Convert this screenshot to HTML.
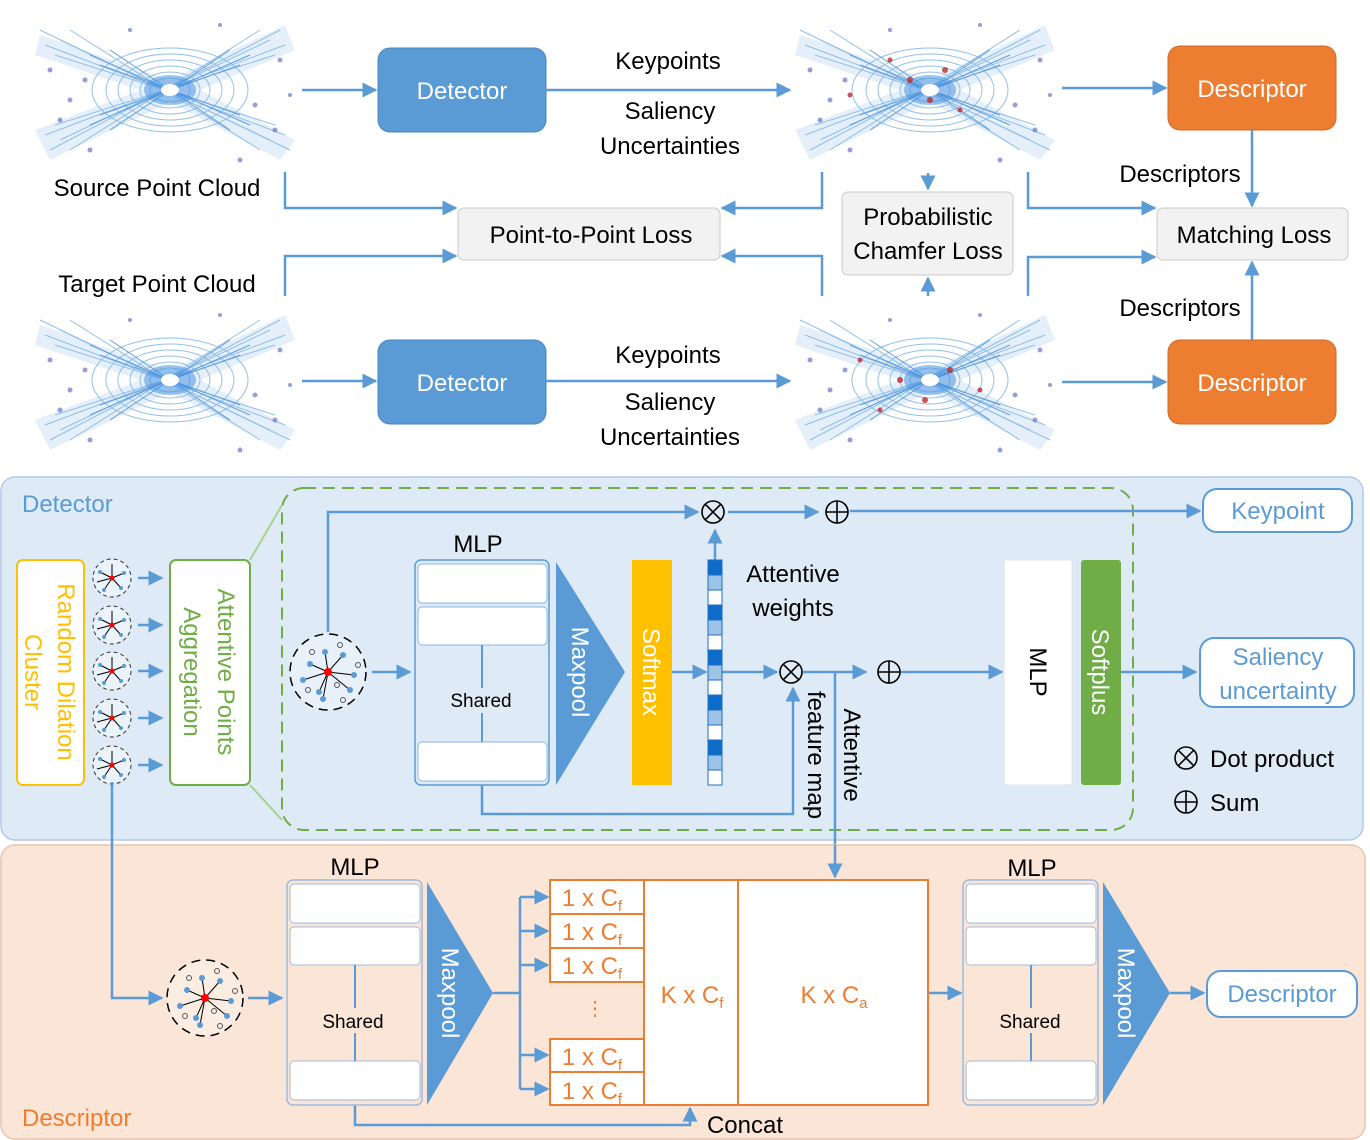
<!DOCTYPE html>
<html><head><meta charset="utf-8"><style>
html,body{margin:0;padding:0;background:#fff}
svg{display:block}
text{font-family:"Liberation Sans",sans-serif}
</style></head><body>
<svg width="1370" height="1140" viewBox="0 0 1370 1140" xmlns="http://www.w3.org/2000/svg">
<defs>
<marker id="a" viewBox="0 0 10 10" refX="9" refY="5" markerWidth="6" markerHeight="6" orient="auto"><path d="M0,0L10,5L0,10z" fill="#5b9bd5"/></marker>
<symbol id="cloud" viewBox="0 0 270 160">
<path d="M10,25L140,70L255,15L265,40L170,80L265,130L250,150L140,92L20,150L5,120L110,80L5,45Z" fill="#cfe2f5" opacity="0.55"/>
<g fill="none" stroke="#7fb6e6" stroke-width="1" opacity="0.85">
<ellipse cx="140" cy="80" rx="20" ry="12"/><ellipse cx="140" cy="80" rx="30" ry="18"/><ellipse cx="140" cy="80" rx="40" ry="24"/><ellipse cx="140" cy="80" rx="52" ry="30"/><ellipse cx="140" cy="80" rx="64" ry="36"/><ellipse cx="140" cy="80" rx="78" ry="42"/>
<path d="M10,20L260,140M20,140L250,20M30,30L240,130M30,130L240,30M40,20L230,140M40,140L230,20M15,35L255,125M15,125L255,35M25,45L245,115M25,115L245,45"/>
<path d="M60,45L220,115M60,115L220,45M80,40L200,120M80,120L200,40M70,55L210,105M70,105L210,55" stroke="#4a8fd8"/>
</g>
<g fill="#6a74c8" opacity="0.7">
<circle cx="20" cy="60" r="2.5"/><circle cx="40" cy="90" r="2.5"/><circle cx="250" cy="50" r="2.5"/><circle cx="245" cy="120" r="2.5"/><circle cx="60" cy="140" r="2.5"/><circle cx="210" cy="150" r="2.5"/><circle cx="100" cy="20" r="2"/><circle cx="190" cy="15" r="2"/><circle cx="30" cy="110" r="2.5"/><circle cx="260" cy="85" r="2"/><circle cx="225" cy="95" r="2.5"/><circle cx="55" cy="70" r="2.5"/>
</g>
<ellipse cx="140" cy="80" rx="26" ry="15" fill="#3d8de0" opacity="0.5"/>
<ellipse cx="140" cy="80" rx="9" ry="6" fill="#fff"/>
</symbol>
<g id="ot"><circle r="11" fill="none" stroke="#000" stroke-width="1.6"/><path d="M-7.8,-7.8L7.8,7.8M-7.8,7.8L7.8,-7.8" stroke="#000" stroke-width="1.6"/></g>
<g id="op"><circle r="11" fill="none" stroke="#000" stroke-width="1.6"/><path d="M-11,0H11M0,-11V11" stroke="#000" stroke-width="1.6"/></g>
</defs>

<use href="#cloud" x="30" y="10" width="270" height="160"/>
<use href="#cloud" x="30" y="300" width="270" height="160"/>
<use href="#cloud" x="790" y="10" width="270" height="160"/>
<use href="#cloud" x="790" y="300" width="270" height="160"/>
<g fill="#c0282d" opacity="0.8">
<circle cx="910" cy="80" r="3"/><circle cx="930" cy="100" r="3"/><circle cx="945" cy="70" r="3"/><circle cx="890" cy="60" r="2.5"/><circle cx="960" cy="110" r="2.5"/><circle cx="850" cy="95" r="2.5"/>
<circle cx="900" cy="380" r="3"/><circle cx="925" cy="400" r="3"/><circle cx="950" cy="370" r="3"/><circle cx="880" cy="410" r="2.5"/><circle cx="980" cy="390" r="2.5"/><circle cx="860" cy="360" r="2.5"/>
</g>

<g font-size="24" fill="#000" text-anchor="middle">
<text x="157" y="196">Source Point Cloud</text>
<text x="157" y="292">Target Point Cloud</text>
<text x="668" y="69">Keypoints</text>
<text x="670" y="119">Saliency</text>
<text x="670" y="154">Uncertainties</text>
<text x="668" y="363">Keypoints</text>
<text x="670" y="410">Saliency</text>
<text x="670" y="445">Uncertainties</text>
<text x="1180" y="182">Descriptors</text>
<text x="1180" y="316">Descriptors</text>
</g>

<rect x="378" y="48" width="168" height="84" rx="12" fill="#5b9bd5" stroke="#4a86be"/>
<rect x="378" y="340" width="168" height="84" rx="12" fill="#5b9bd5" stroke="#4a86be"/>
<rect x="1168" y="46" width="168" height="84" rx="12" fill="#ed7d31" stroke="#d06a25"/>
<rect x="1168" y="340" width="168" height="84" rx="12" fill="#ed7d31" stroke="#d06a25"/>
<g font-size="24" fill="#fff" text-anchor="middle">
<text x="462" y="99">Detector</text><text x="462" y="391">Detector</text>
<text x="1252" y="97">Descriptor</text><text x="1252" y="391">Descriptor</text>
</g>

<rect x="458" y="208" width="262" height="52" rx="6" fill="#f2f2f2" stroke="#c9c9c9"/>
<rect x="842" y="192" width="171" height="83" rx="6" fill="#f2f2f2" stroke="#c9c9c9"/>
<rect x="1157" y="208" width="191" height="52" rx="6" fill="#f2f2f2" stroke="#c9c9c9"/>
<g font-size="24" fill="#000" text-anchor="middle">
<text x="591" y="243">Point-to-Point Loss</text>
<text x="928" y="225">Probabilistic</text>
<text x="928" y="259">Chamfer Loss</text>
<text x="1254" y="243">Matching Loss</text>
</g>

<g stroke="#5b9bd5" stroke-width="2.5" fill="none" marker-end="url(#a)">
<path d="M302,90H376"/><path d="M546,90H790"/><path d="M302,381H376"/><path d="M546,381H790"/>
<path d="M1062,88H1166"/><path d="M1062,382H1166"/>
<path d="M1252,130V206"/><path d="M1252,340V262"/>
<path d="M1028,172V208H1155"/><path d="M1028,296V257H1155"/>
<path d="M928,173V189"/><path d="M928,296V278"/>
<path d="M285,172V208H456"/><path d="M285,296V256H456"/>
<path d="M822,172V208H722"/><path d="M822,296V256H722"/>
</g>

<rect x="1" y="477" width="1362" height="363" rx="14" fill="#deebf7" stroke="#b4c7e7" stroke-width="1.5"/>
<text x="22" y="512" font-size="24" fill="#5b9bd5">Detector</text>

<rect x="17" y="560" width="67" height="225" rx="6" fill="#fff" stroke="#ffc000" stroke-width="2"/>
<g font-size="24" fill="#ffc000" text-anchor="middle">
<text transform="translate(58,672) rotate(90)">Random Dilation</text>
<text transform="translate(25,672) rotate(90)">Cluster</text>
</g>
<rect x="170" y="560" width="80" height="225" rx="6" fill="#fff" stroke="#70ad47" stroke-width="2"/>
<g font-size="24" fill="#70ad47" text-anchor="middle">
<text transform="translate(218,672) rotate(90)">Attentive Points</text>
<text transform="translate(184,672) rotate(90)">Aggregation</text>
</g>

<g id="sc">
<circle cx="112" cy="578" r="19" fill="#fff" fill-opacity="0.4" stroke="#333" stroke-dasharray="4,3"/>
<path d="M112,578l-12,-6M112,578l12,-5M112,578l-8,12M112,578l9,10M112,578l0,-14M112,578l-15,4" stroke="#000" stroke-width="1"/>
<circle cx="112" cy="578" r="2.5" fill="red"/>
<circle cx="100" cy="572" r="2" fill="#5b9bd5"/><circle cx="124" cy="573" r="2" fill="#5b9bd5"/><circle cx="104" cy="590" r="2" fill="#5b9bd5"/><circle cx="121" cy="588" r="2" fill="#5b9bd5"/>
</g>
<use href="#sc" y="47"/><use href="#sc" y="93"/><use href="#sc" y="140"/><use href="#sc" y="187"/>

<g stroke="#5b9bd5" stroke-width="2.5" fill="none" marker-end="url(#a)">
<path d="M138,578H162"/><path d="M138,625H162"/><path d="M138,671H162"/><path d="M138,718H162"/><path d="M138,765H162"/>
</g>

<rect x="282" y="488" width="851" height="342" rx="22" fill="none" stroke="#70ad47" stroke-width="2" stroke-dasharray="12,7"/>
<path d="M250,560L282,505M250,785L282,820" stroke="#a9d18e" stroke-width="2"/>

<g id="bc">
<circle cx="328" cy="672" r="38" fill="#fff" fill-opacity="0.3" stroke="#000" stroke-width="1.5" stroke-dasharray="9,6"/>
<path d="M328,672l-25,8M328,672l26,3M328,672l-3,-20M328,672l-9,20M328,672l-18,-8M328,672l15,-17M328,672l22,18M328,672l-5,27" stroke="#000"/>
<circle cx="328" cy="672" r="4" fill="red"/>
<g fill="#5b9bd5"><circle cx="303" cy="680" r="3"/><circle cx="354" cy="675" r="3"/><circle cx="325" cy="652" r="3"/><circle cx="319" cy="692" r="3"/><circle cx="343" cy="655" r="3"/><circle cx="350" cy="690" r="3"/><circle cx="310" cy="664" r="3"/><circle cx="323" cy="699" r="3"/></g>
<g fill="none" stroke="#555"><circle cx="312" cy="652" r="2.5"/><circle cx="340" cy="645" r="2.5"/><circle cx="308" cy="690" r="2.5"/><circle cx="337" cy="685" r="2.5"/><circle cx="343" cy="700" r="2.5"/><circle cx="358" cy="665" r="2.5"/></g>
</g>

<g stroke="#5b9bd5" stroke-width="2.5" fill="none" marker-end="url(#a)">
<path d="M372,672H410"/>
<path d="M328,632V512H698"/>
<path d="M728,512H818"/>
<path d="M850,511H1200"/>
<path d="M672,672H706"/>
<path d="M715,560V530"/>
<path d="M722,672H777"/>
<path d="M803,672H866"/>
<path d="M901,672H1002"/>
<path d="M482,785V814H793V688"/>
<path d="M835,672V877"/>
<path d="M1121,672H1196"/>
</g>

<text x="478" y="552" font-size="24" text-anchor="middle">MLP</text>
<rect x="415" y="560" width="134" height="225" rx="6" fill="#deebf7" stroke="#5b9bd5" stroke-width="1.5"/>
<rect x="418" y="564" width="129" height="39" rx="4" fill="#fff" stroke="#8fb4dd"/>
<rect x="418" y="607" width="129" height="38" rx="4" fill="#fff" stroke="#8fb4dd"/>
<rect x="418" y="742" width="129" height="39" rx="4" fill="#fff" stroke="#8fb4dd"/>
<path d="M482,645V688M482,713V742" stroke="#5b9bd5" stroke-width="2"/>
<text x="481" y="707" font-size="19" text-anchor="middle">Shared</text>
<path d="M556,562L625,672L556,785Z" fill="#5b9bd5"/>
<text transform="translate(572,672) rotate(90)" font-size="24" fill="#fff" text-anchor="middle">Maxpool</text>
<rect x="632" y="560" width="40" height="225" fill="#ffc000"/>
<text transform="translate(643,672) rotate(90)" font-size="24" fill="#fff" text-anchor="middle">Softmax</text>

<g stroke="#1f6fc0" stroke-width="1">
<rect x="708" y="560" width="14" height="15" fill="#0d6ccb"/><rect x="708" y="575" width="14" height="15" fill="#9dc3e6"/><rect x="708" y="590" width="14" height="15" fill="#fff"/>
<rect x="708" y="605" width="14" height="15" fill="#0d6ccb"/><rect x="708" y="620" width="14" height="15" fill="#9dc3e6"/><rect x="708" y="635" width="14" height="15" fill="#fff"/>
<rect x="708" y="650" width="14" height="15" fill="#0d6ccb"/><rect x="708" y="665" width="14" height="15" fill="#9dc3e6"/><rect x="708" y="680" width="14" height="15" fill="#fff"/>
<rect x="708" y="695" width="14" height="15" fill="#0d6ccb"/><rect x="708" y="710" width="14" height="15" fill="#9dc3e6"/><rect x="708" y="725" width="14" height="15" fill="#fff"/>
<rect x="708" y="740" width="14" height="15" fill="#0d6ccb"/><rect x="708" y="755" width="14" height="15" fill="#9dc3e6"/><rect x="708" y="770" width="14" height="15" fill="#fff"/>
</g>
<g font-size="24" text-anchor="middle">
<text x="793" y="582">Attentive</text>
<text x="793" y="616">weights</text>
<text transform="translate(808,755) rotate(90)">feature map</text>
<text transform="translate(844,755) rotate(90)">Attentive</text>
</g>

<use href="#ot" x="713" y="512"/><use href="#op" x="837" y="512"/>
<use href="#ot" x="791" y="672"/><use href="#op" x="889" y="672"/>
<use href="#ot" x="1186" y="758"/><use href="#op" x="1186" y="802"/>
<text x="1210" y="767" font-size="24">Dot product</text>
<text x="1210" y="811" font-size="24">Sum</text>

<rect x="1004" y="560" width="68" height="225" fill="#fff" stroke="#e0e0e0"/>
<text transform="translate(1030,672) rotate(90)" font-size="24" text-anchor="middle">MLP</text>
<rect x="1081" y="560" width="40" height="225" rx="3" fill="#70ad47"/>
<text transform="translate(1092,672) rotate(90)" font-size="24" fill="#fff" text-anchor="middle">Softplus</text>

<rect x="1203" y="489" width="149" height="43" rx="14" fill="#fff" stroke="#5b9bd5" stroke-width="2"/>
<text x="1278" y="519" font-size="24" fill="#5b9bd5" text-anchor="middle">Keypoint</text>
<rect x="1200" y="638" width="154" height="69" rx="14" fill="#fff" stroke="#5b9bd5" stroke-width="2"/>
<text x="1278" y="665" font-size="24" fill="#5b9bd5" text-anchor="middle">Saliency</text>
<text x="1278" y="699" font-size="24" fill="#5b9bd5" text-anchor="middle">uncertainty</text>

<rect x="1" y="845" width="1364" height="294" rx="14" fill="#fbe5d6" stroke="#e6c4ae" stroke-width="1.5"/>
<path d="M835,845V877" stroke="#5b9bd5" stroke-width="2.5" marker-end="url(#a)"/>
<text x="22" y="1126" font-size="24" fill="#ed7d31">Descriptor</text>

<use href="#bc" x="-123" y="326"/>
<g stroke="#5b9bd5" stroke-width="2.5" fill="none" marker-end="url(#a)">
<path d="M112,782V998H162"/>
<path d="M248,998H282"/>
<path d="M355,1105V1125H690V1108"/>
<path d="M928,993H961"/>
<path d="M1170,993H1204"/>
</g>
<g stroke="#5b9bd5" stroke-width="2.5" fill="none">
<path d="M493,993H520M520,897V1089"/>
</g>
<g stroke="#5b9bd5" stroke-width="2.5" fill="none" marker-end="url(#a)">
<path d="M520,897H548"/><path d="M520,931H548"/><path d="M520,965H548"/><path d="M520,1055H548"/><path d="M520,1089H548"/>
</g>

<text x="355" y="875" font-size="24" text-anchor="middle">MLP</text>
<rect x="287" y="880" width="135" height="225" rx="6" fill="#fbe5d6" stroke="#9dbbe0" stroke-width="1.5"/>
<rect x="290" y="884" width="130" height="39" rx="4" fill="#fff" stroke="#9dbbe0"/>
<rect x="290" y="927" width="130" height="38" rx="4" fill="#fff" stroke="#9dbbe0"/>
<rect x="290" y="1061" width="130" height="39" rx="4" fill="#fff" stroke="#9dbbe0"/>
<path d="M355,965V1008M355,1033V1061" stroke="#5b9bd5" stroke-width="2"/>
<text x="353" y="1028" font-size="19" text-anchor="middle">Shared</text>
<path d="M427,882L493,993L427,1105Z" fill="#5b9bd5"/>
<text transform="translate(442,993) rotate(90)" font-size="24" fill="#fff" text-anchor="middle">Maxpool</text>

<g stroke="#ed7d31" stroke-width="2" fill="#fff">
<rect x="550" y="880" width="94" height="34"/><rect x="550" y="914" width="94" height="34"/><rect x="550" y="948" width="94" height="34"/>
<rect x="550" y="1039" width="94" height="33"/><rect x="550" y="1072" width="94" height="33"/>
<rect x="644" y="880" width="94" height="225"/><rect x="738" y="880" width="190" height="225"/>
</g>
<g font-size="24" fill="#ed7d31" text-anchor="middle">
<text x="592" y="906">1 x C<tspan font-size="15" dy="5">f</tspan></text>
<text x="592" y="940">1 x C<tspan font-size="15" dy="5">f</tspan></text>
<text x="592" y="974">1 x C<tspan font-size="15" dy="5">f</tspan></text>
<text x="592" y="1065">1 x C<tspan font-size="15" dy="5">f</tspan></text>
<text x="592" y="1099">1 x C<tspan font-size="15" dy="5">f</tspan></text>
<text x="692" y="1003">K x C<tspan font-size="15" dy="5">f</tspan></text>
<text x="834" y="1003">K x C<tspan font-size="15" dy="5">a</tspan></text>
<text x="595" y="1015" font-size="20">⋮</text>
</g>
<text x="745" y="1133" font-size="24" text-anchor="middle">Concat</text>

<text x="1032" y="876" font-size="24" text-anchor="middle">MLP</text>
<rect x="963" y="880" width="135" height="225" rx="6" fill="#fbe5d6" stroke="#9dbbe0" stroke-width="1.5"/>
<rect x="966" y="884" width="130" height="39" rx="4" fill="#fff" stroke="#9dbbe0"/>
<rect x="966" y="927" width="130" height="38" rx="4" fill="#fff" stroke="#9dbbe0"/>
<rect x="966" y="1061" width="130" height="39" rx="4" fill="#fff" stroke="#9dbbe0"/>
<path d="M1031,965V1008M1031,1033V1061" stroke="#5b9bd5" stroke-width="2"/>
<text x="1030" y="1028" font-size="19" text-anchor="middle">Shared</text>
<path d="M1103,882L1170,993L1103,1105Z" fill="#5b9bd5"/>
<text transform="translate(1118,993) rotate(90)" font-size="24" fill="#fff" text-anchor="middle">Maxpool</text>

<rect x="1207" y="971" width="150" height="46" rx="14" fill="#fff" stroke="#5b9bd5" stroke-width="2"/>
<text x="1282" y="1002" font-size="24" fill="#5b9bd5" text-anchor="middle">Descriptor</text>
</svg>
</body></html>
